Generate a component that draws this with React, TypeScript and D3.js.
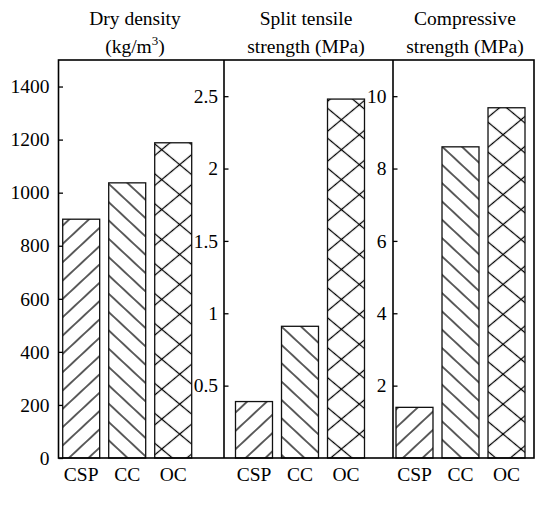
import React, { useRef, useEffect } from 'react';
import * as d3 from 'd3';

const categories = ['CSP', 'CC', 'OC'];

const densityValues = [900, 1037, 1188];
const tensileValues = [0.39, 0.91, 2.48];
const compressiveValues = [1.4, 8.6, 9.68];

const densityTicks = [0, 200, 400, 600, 800, 1000, 1200, 1400];
const tensileTicks = [0.5, 1, 1.5, 2, 2.5];
const compressiveTicks = [2, 4, 6, 8, 10];

const densityMax = 1500;
const tensileMax = 2.75;
const compressiveMax = 11;

const width = 550;
const height = 507;
const frameTop = 60;
const frameBottom = 458;
const fontFamily = "'Liberation Serif', 'Times New Roman', serif";
const fontSize = 19.5;

// panel layout: frame edges, where the bars start and where the title sits
const panelLayout = [
  { left: 58.5, right: 224, barStart: 62.7, titleX: 135, labelGap: 9 },
  { left: 224, right: 393, barStart: 235.5, titleX: 306, labelGap: 6 },
  { left: 393, right: 534, barStart: 396, titleX: 465, labelGap: 6.5 },
];

const App: React.FC = () => {
  const svgRef = useRef<SVGSVGElement | null>(null);

  useEffect(() => {
    if (!svgRef.current) {
      return;
    }
    const svg = d3.select(svgRef.current);
    svg.selectAll('*').remove();

    svg.attr('width', width)
      .attr('height', height)
      .attr('viewBox', [0, 0, width, height].join(' '))
      .style('font-family', fontFamily)
      .style('font-size', `${fontSize}px`);

    svg.append('rect')
      .attr('width', width)
      .attr('height', height)
      .attr('fill', '#fff');

    // hatch patterns (rotated horizontal lines)
    const defs = svg.append('defs');
    const addHatch = (id: string, angle: number, spacing: number) => {
      const p = defs.append('pattern')
        .attr('id', id)
        .attr('patternUnits', 'userSpaceOnUse')
        .attr('width', 20)
        .attr('height', spacing)
        .attr('patternTransform', `rotate(${angle})`);
      p.append('line')
        .attr('x1', -1)
        .attr('x2', 21)
        .attr('y1', spacing / 2)
        .attr('y2', spacing / 2)
        .attr('stroke', '#000')
        .attr('stroke-width', 1.25);
    };
    addHatch('hatch-fwd', -43, 13.4);
    addHatch('hatch-back', 43, 13.4);
    addHatch('cross-fwd', -39.8, 23);
    addHatch('cross-back', 39.8, 23);

    const fills: string[][] = [['hatch-fwd'], ['hatch-back'], ['cross-fwd', 'cross-back']];

    const panels = [
      { title: ['Dry density', '(kg/m'], sup: true, values: densityValues, ticks: densityTicks, max: densityMax },
      { title: ['Split tensile', 'strength (MPa)'], sup: false, values: tensileValues, ticks: tensileTicks, max: tensileMax },
      { title: ['Compressive', 'strength (MPa)'], sup: false, values: compressiveValues, ticks: compressiveTicks, max: compressiveMax },
    ];

    panels.forEach((panel, i) => {
      const layout = panelLayout[i];

      const y = d3.scaleLinear()
        .domain([0, panel.max])
        .range([frameBottom, frameTop]);

      const x = d3.scaleBand<string>()
        .domain(categories)
        .range([layout.barStart, layout.barStart + 129])
        .paddingInner(0.196)
        .paddingOuter(0);

      const g = svg.append('g');

      // bars
      categories.forEach((cat, j) => {
        const v = panel.values[j];
        fills[j].forEach(f => {
          g.append('rect')
            .attr('x', x(cat) ?? 0)
            .attr('y', y(v))
            .attr('width', x.bandwidth())
            .attr('height', y(0) - y(v))
            .attr('fill', `url(#${f})`);
        });
        g.append('rect')
          .attr('x', x(cat) ?? 0)
          .attr('y', y(v))
          .attr('width', x.bandwidth())
          .attr('height', y(0) - y(v))
          .attr('fill', 'none')
          .attr('stroke', '#111')
          .attr('stroke-width', 1.3);
      });

      // y axis with inward ticks, labels outside
      g.append('g')
        .attr('transform', `translate(${layout.left},0)`)
        .call(d3.axisLeft(y).tickValues(panel.ticks).tickSizeInner(-4.5).tickSizeOuter(0)
          .tickPadding(layout.labelGap).tickFormat(d => String(d)))
        .call(s => s.select('.domain').remove())
        .call(s => s.selectAll('.tick line').attr('stroke', '#000').attr('stroke-width', 1.3))
        .call(s => s.selectAll('.tick text')
          .attr('fill', '#000')
          .style('font-family', fontFamily)
          .style('font-size', `${fontSize}px`));

      // category labels
      g.selectAll('text.cat')
        .data(categories)
        .join('text')
        .attr('class', 'cat')
        .attr('x', d => (x(d) ?? 0) + x.bandwidth() / 2)
        .attr('y', 481)
        .attr('text-anchor', 'middle')
        .attr('fill', '#000')
        .text(d => d);

      // titles
      g.append('text')
        .attr('x', layout.titleX)
        .attr('y', 25)
        .attr('text-anchor', 'middle')
        .attr('fill', '#000')
        .text(panel.title[0]);
      const t2 = g.append('text')
        .attr('x', layout.titleX)
        .attr('y', 53)
        .attr('text-anchor', 'middle')
        .attr('fill', '#000');
      t2.append('tspan').text(panel.title[1]);
      if (panel.sup) {
        t2.append('tspan').attr('dy', -8).style('font-size', '13px').text('3');
        t2.append('tspan').attr('dy', 8).text(')');
      }
    });

    // frame and panel dividers
    svg.append('rect')
      .attr('x', panelLayout[0].left)
      .attr('y', frameTop)
      .attr('width', panelLayout[2].right - panelLayout[0].left)
      .attr('height', frameBottom - frameTop)
      .attr('fill', 'none')
      .attr('stroke', '#000')
      .attr('stroke-width', 1.6);
    [panelLayout[1].left, panelLayout[2].left].forEach(px => {
      svg.append('line')
        .attr('x1', px)
        .attr('x2', px)
        .attr('y1', frameTop)
        .attr('y2', frameBottom)
        .attr('stroke', '#000')
        .attr('stroke-width', 1.6);
    });
  }, [svgRef]);

  return (
    <div style={{ position: 'absolute', left: 0, top: 0 }}>
      <svg ref={svgRef} style={{ display: 'block' }} />
    </div>
  );
};

export default App;
